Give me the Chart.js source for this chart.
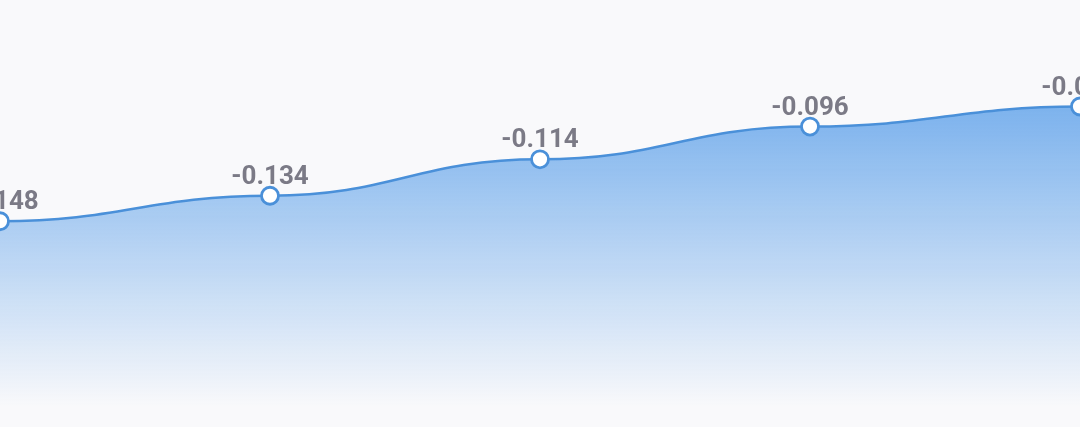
<!DOCTYPE html>
<html>
<head>
<meta charset="utf-8">
<script src="https://cdn.jsdelivr.net/npm/chart.js@4/dist/chart.umd.min.js"></script>
<style>
  html, body { margin: 0; padding: 0; background: #f9f9fb; }
  #wrap { width: 1080px; height: 427px; position: relative; }
</style>
</head>
<body>
<div id="wrap"><canvas id="c"></canvas></div>
<script>
const categories = ["1", "2", "3", "4", "5"];
const values = [-0.148, -0.134, -0.114, -0.096, -0.085];
const labelTexts = ["-0.148", "-0.134", "-0.114", "-0.096", "-0.085"];

const lineColor = '#4a90d9';
const smoothFraction = 0.45;

// Horizontal-tangent smoothing (S-shaped segments) on the library's own line element
const flatTangents = {
  id: 'flatTangents',
  afterDatasetsUpdate(chart) {
    const meta = chart.getDatasetMeta(0);
    const line = meta.dataset;
    if (!line) return;
    line.updateControlPoints(chart.chartArea, 'x');
    const pts = line.points;
    pts.forEach((p, i) => {
      const prev = pts[i - 1];
      const next = pts[i + 1];
      p.cp1x = prev ? p.x - smoothFraction * (p.x - prev.x) : p.x;
      p.cp1y = p.y;
      p.cp2x = next ? p.x + smoothFraction * (next.x - p.x) : p.x;
      p.cp2y = p.y;
    });
  }
};

const valueLabels = {
  id: 'valueLabels',
  afterDatasetsDraw(chart) {
    const ctx = chart.ctx;
    const meta = chart.getDatasetMeta(0);
    ctx.save();
    ctx.font = 'bold 26px Roboto';
    ctx.fillStyle = '#7b7a86';
    ctx.textAlign = 'center';
    ctx.textBaseline = 'alphabetic';
    meta.data.forEach((pt, i) => {
      ctx.fillText(labelTexts[i], pt.x, pt.y - 12);
    });
    ctx.restore();
  }
};

new Chart(document.getElementById('c'), {
  type: 'line',
  data: {
    labels: categories,
    datasets: [{
      data: values,
      borderColor: lineColor,
      borderWidth: 2.5,
      tension: 0.4,
      fill: 'start',
      clip: false,
      backgroundColor(context) {
        const { chart } = context;
        const area = chart.chartArea;
        if (!area) return 'rgba(110,170,235,0.5)';
        const h = area.bottom - area.top;
        const g = chart.ctx.createLinearGradient(0, area.top, 0, area.bottom);
        g.addColorStop(0, 'rgba(110,170,235,0.95)');
        g.addColorStop(Math.min(1, 110 / h), 'rgba(110,170,235,0.89)');
        g.addColorStop(Math.min(1, 407 / h), 'rgba(110,170,235,0)');
        g.addColorStop(1, 'rgba(110,170,235,0)');
        return g;
      },
      pointRadius: 8.5,
      pointBorderWidth: 2.8,
      pointBackgroundColor: '#ffffff',
      pointBorderColor: lineColor
    }]
  },
  options: {
    responsive: true,
    maintainAspectRatio: false,
    animation: false,
    layout: { padding: 0, autoPadding: false },
    plugins: { legend: { display: false }, tooltip: { enabled: false } },
    scales: {
      x: { display: false, offset: false },
      y: { display: false, min: -0.261, max: -0.0265 }
    }
  },
  plugins: [flatTangents, valueLabels]
});
</script>
</body>
</html>
